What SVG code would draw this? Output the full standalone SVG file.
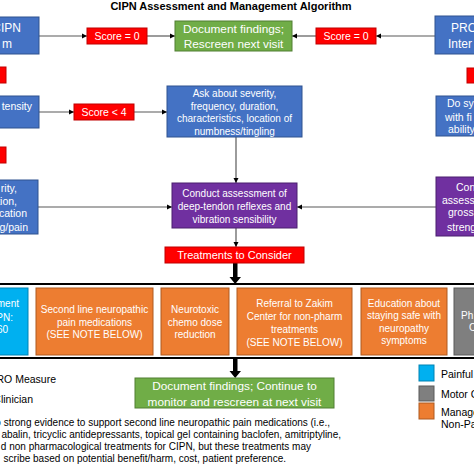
<svg xmlns="http://www.w3.org/2000/svg" width="474" height="474" viewBox="0 0 474 474">
<defs>
<marker id="ah" markerWidth="6" markerHeight="6" refX="5" refY="3" orient="auto" markerUnits="userSpaceOnUse">
<path d="M0,0.5 L5,3 L0,5.5 Z" fill="#000"/>
</marker>
<style>
text{font-family:"Liberation Sans",Arial,sans-serif;fill:#fff;font-size:10px}
.c{text-anchor:middle}
.e{text-anchor:end}
.k{fill:#000}
.blue{fill:#4472C4;stroke:#2F528F;stroke-width:1}
.red{fill:#FF0000;stroke:#C00000;stroke-width:1}
.green{fill:#70AD47;stroke:#507E32;stroke-width:1}
.purple{fill:#7030A0;stroke:#4A1F6E;stroke-width:1}
.orange{fill:#ED7D31;stroke:#AE5A21;stroke-width:1}
.cyan{fill:#00B0F0;stroke:#0083B4;stroke-width:1}
.gray{fill:#7F7F7F;stroke:#5A5A5A;stroke-width:1}
.ln{stroke:#595959;stroke-width:1.2;fill:none;marker-end:url(#ah)}
.big{font-size:11.8px}
.sc{font-size:10.5px}
</style>
</defs>
<rect width="474" height="474" fill="#fff"/>
<text x="231" y="10" class="c k" style="font-weight:bold;font-size:11px">CIPN Assessment and Management Algorithm</text>

<g id="connectors">
<line class="ln" x1="39" y1="36" x2="87" y2="36"/>
<line class="ln" x1="147" y1="36" x2="175" y2="36"/>
<line class="ln" x1="435" y1="36" x2="376" y2="36"/>
<line class="ln" x1="316" y1="36" x2="292" y2="36"/>
<line class="ln" x1="39" y1="112" x2="74" y2="112"/>
<line class="ln" x1="134" y1="112" x2="167" y2="112"/>
<line class="ln" x1="236" y1="137" x2="236" y2="183"/>
<line class="ln" x1="38" y1="207" x2="172" y2="207"/>
<line class="ln" x1="436" y1="207" x2="297" y2="207"/>
<line class="ln" x1="236" y1="228" x2="236" y2="247"/>
<polygon points="233,263 237.5,263 237.5,277 241,277 235.2,284 229.5,277 233,277" fill="#000"/>
<polygon points="233,358 237.5,358 237.5,371 241,371 235.2,378 229.5,371 233,371" fill="#000"/>
</g>

<g id="screen-left">
<rect class="blue" x="-5" y="17" width="44" height="37"/>
<text x="21" y="32" class="e" style="font-size:12px">CIPN</text>
<text x="12" y="48" class="e" style="font-size:12px">m</text>
</g>
<g id="score0-left">
<rect class="red" x="87" y="28" width="60" height="16"/>
<text x="117" y="40" class="c sc">Score = 0</text>
</g>
<g id="document-top">
<rect class="green" x="175" y="21" width="117" height="30"/>
<text x="233.5" y="33" class="c big">Document findings;</text>
<text x="233.5" y="48" class="c big">Rescreen next visit</text>
</g>
<g id="score0-right">
<rect class="red" x="316" y="28" width="60" height="16"/>
<text x="346" y="40" class="c sc">Score = 0</text>
</g>
<g id="pro-right">
<rect class="blue" x="435" y="16" width="45" height="38"/>
<text x="451" y="32" style="font-size:12px">PRO</text>
<text x="448" y="48" style="font-size:12px">Inter</text>
</g>
<g id="red-left-1"><rect class="red" x="-5" y="67" width="11" height="16"/></g>
<g id="red-right-1"><rect class="red" x="467" y="68" width="12" height="15"/></g>

<g id="intensity-left">
<rect class="blue" x="-5" y="96" width="44" height="32"/>
<text x="32" y="110" class="e sc">tensity</text>
</g>
<g id="score4">
<rect class="red" x="74" y="104" width="60" height="16"/>
<text x="104" y="116" class="c sc">Score &lt; 4</text>
</g>
<g id="ask-about">
<rect class="blue" x="167" y="86" width="135" height="51"/>
<text x="234.5" y="97" class="c">Ask about severity,</text>
<text x="234.5" y="109.5" class="c">frequency, duration,</text>
<text x="234.5" y="122" class="c">characteristics, location of</text>
<text x="234.5" y="134.5" class="c">numbness/tingling</text>
</g>
<g id="symptom-right">
<rect class="blue" x="436" y="96" width="44" height="40"/>
<text x="447" y="107" class="sc">Do sym</text>
<text x="445" y="121" class="sc">with fi</text>
<text x="448" y="133" class="sc">ability</text>
</g>
<g id="red-left-2"><rect class="red" x="-5" y="147" width="11" height="16"/></g>

<g id="severity-left">
<rect class="blue" x="-5" y="180" width="43" height="54"/>
<text x="17" y="192" class="e sc">rity,</text>
<text x="17" y="204.5" class="e sc">tion,</text>
<text x="27" y="217" class="e sc">cation</text>
<text x="28" y="231" class="e sc">g/pain</text>
</g>
<g id="conduct-middle">
<rect class="purple" x="172" y="183" width="125" height="45"/>
<text x="234.5" y="197" class="c">Conduct assessment of</text>
<text x="234.5" y="210" class="c">deep-tendon reflexes and</text>
<text x="234.5" y="223" class="c">vibration sensibility</text>
</g>
<g id="conduct-right">
<rect class="purple" x="436" y="177" width="44" height="59"/>
<text x="456" y="191" class="sc">Con</text>
<text x="442" y="204" class="sc">assessm</text>
<text x="448" y="216" class="sc">gross</text>
<text x="447" y="231" class="sc">streng</text>
</g>
<g id="treatments">
<rect class="red" x="165" y="247" width="139" height="16"/>
<text x="234.5" y="259" class="c" style="font-size:11px">Treatments to Consider</text>
</g>

<g id="treatment-panel">
<rect x="-5" y="284" width="484" height="74" fill="none" stroke="#000" stroke-width="2"/>
</g>
<g id="t-cyan">
<rect class="cyan" x="-5" y="288" width="33" height="67"/>
<text x="19" y="307" class="e">ment</text>
<text x="13" y="321" class="e">PN:</text>
<text x="8" y="333" class="e">60</text>
</g>
<g id="t-second-line">
<rect class="orange" x="36" y="288" width="117" height="67"/>
<text x="94.5" y="313" class="c">Second line neuropathic</text>
<text x="94.5" y="326" class="c">pain medications</text>
<text x="94.5" y="338" class="c">(SEE NOTE BELOW)</text>
</g>
<g id="t-neurotoxic">
<rect class="orange" x="161" y="288" width="68" height="67"/>
<text x="195" y="313" class="c">Neurotoxic</text>
<text x="195" y="326" class="c">chemo dose</text>
<text x="195" y="338" class="c">reduction</text>
</g>
<g id="t-referral">
<rect class="orange" x="237" y="288" width="115" height="67"/>
<text x="294.5" y="307" class="c">Referral to Zakim</text>
<text x="294.5" y="320" class="c">Center for non-pharm</text>
<text x="294.5" y="333" class="c">treatments</text>
<text x="294.5" y="346" class="c">(SEE NOTE BELOW)</text>
</g>
<g id="t-education">
<rect class="orange" x="361" y="288" width="86" height="67"/>
<text x="404" y="307" class="c">Education about</text>
<text x="404" y="319" class="c">staying safe with</text>
<text x="404" y="332" class="c">neuropathy</text>
<text x="404" y="344" class="c">symptoms</text>
</g>
<g id="t-gray">
<rect class="gray" x="454" y="288" width="30" height="67"/>
<text x="461" y="319">Ph</text>
<text x="469" y="331">C</text>
</g>

<g id="document-bottom">
<rect class="green" x="135" y="378" width="199" height="30"/>
<text x="234.5" y="390" class="c big">Document findings; Continue to</text>
<text x="234.5" y="406" class="c big">monitor and rescreen at next visit</text>
</g>

<g id="legend-left">
<text x="56" y="383" class="e k sc">PRO Measure</text>
<text x="33" y="403" class="e k sc">Clinician</text>
</g>
<g id="legend-right">
<rect class="cyan" x="419" y="365" width="15" height="16"/>
<rect class="gray" x="419" y="386" width="15" height="15"/>
<rect class="orange" x="419" y="403" width="15" height="16"/>
<text x="441" y="378" class="k sc">Painful</text>
<text x="441" y="398" class="k sc">Motor C</text>
<text x="441" y="416" class="k sc">Manage</text>
<text x="441" y="428" class="k sc">Non-Pai</text>
</g>

<g id="note">
<text x="330" y="426" class="e k">o strong evidence to support second line neuropathic pain medications (i.e.,</text>
<text x="341" y="437.5" class="e k">abalin, tricyclic antidepressants, topical gel containing baclofen, amitriptyline,</text>
<text x="311" y="450" class="e k">d non pharmacological treatments for CIPN, but these treatments may</text>
<text x="286" y="462" class="e k">scribe based on potential benefit/harm, cost, patient preference.</text>
</g>
</svg>
